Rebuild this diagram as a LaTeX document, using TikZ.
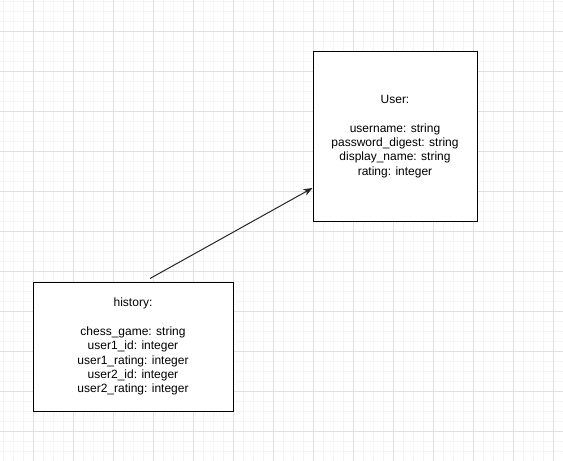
\documentclass[tikz,border=0pt]{standalone}
\usepackage{fontspec}
\setmainfont{Liberation Sans}
\usetikzlibrary{arrows.meta,calc}
\definecolor{gridminor}{RGB}{244,244,244}
\definecolor{gridmajor}{RGB}{224,224,224}
\tikzset{
  entity/.style={draw=black, line width=1pt, fill=white, align=center,
    font=\fontsize{12}{14.4}\selectfont, inner sep=0pt},
  link/.style={line width=1pt, draw=black!85, -{Stealth[length=9pt,width=7pt,inset=2.5pt]}},
}
\begin{document}
\begin{tikzpicture}[x=1pt,y=-1pt]
\fill[white] (0,0) rectangle (563,461);
\useasboundingbox (0,0) rectangle (563,461);
% minor grid
\foreach \x in {3,13,...,563} \draw[gridminor, line width=1pt] (\x,0) -- (\x,461);
\foreach \y in {1,11,...,461} \draw[gridminor, line width=1pt] (0,\y) -- (563,\y);
% major grid
\foreach \x in {33,73,...,563} \draw[gridmajor, line width=1pt] (\x,0) -- (\x,461);
\foreach \y in {31,71,...,461} \draw[gridmajor, line width=1pt] (0,\y) -- (563,\y);

\node[entity, minimum width=164pt, minimum height=170pt] (user) at (395,136.5)
  {User:\\[14.4pt]username: string\\password\_digest: string\\display\_name: string\\rating: integer};
\node[entity, minimum width=200pt, minimum height=129pt] (hist) at (133,346.5)
  {history:\\[14.4pt]chess\_game: string\\user1\_id: integer\\user1\_rating: integer\\user2\_id: integer\\user2\_rating: integer};

\draw[link] ([xshift=17pt,yshift=3pt]hist.north) -- ([yshift=-51.5pt]user.west);
\end{tikzpicture}
\end{document}
